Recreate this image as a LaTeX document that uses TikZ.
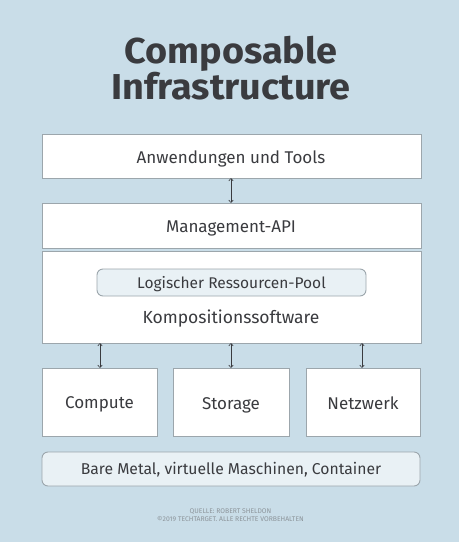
\documentclass[tikz,border=0pt]{standalone}
\usepackage{fontspec}
\setmainfont{Fira Sans}
\usetikzlibrary{arrows.meta}
\definecolor{bg}{HTML}{C9DDE8}
\definecolor{bord}{HTML}{9CA6AC}
\definecolor{poolfill}{HTML}{E9F1F5}
\definecolor{txt}{HTML}{3A3B3F}
\definecolor{foot}{HTML}{8C949A}
\tikzset{
  box/.style={draw=bord, line width=0.9pt, fill=white, inner sep=0pt},
  rbox/.style={draw=bord, line width=0.9pt, fill=poolfill, rounded corners=6pt, inner sep=0pt},
  lbl/.style={text=txt, font=\fontsize{17}{19}\selectfont},
  conn/.style={draw=txt, line width=0.6pt, {Straight Barb[length=2.5pt,width=4.5pt]}-{Straight Barb[length=2.5pt,width=4.5pt]}},
}
\begin{document}
\begin{tikzpicture}[x=1pt,y=-1pt]
\fill[bg] (0,0) rectangle (459,542);
\useasboundingbox (0,0) rectangle (459,542);
\node[text=txt, font=\fontsize{36}{33}\selectfont\bfseries, align=center, xscale=1.05, inner sep=0pt] (title) at (231,68) {Composable\\Infrastructure};
% boxes
\draw[box] (42,134) rectangle (421,178);
\node[lbl] (app) at (231,158.5) {Anwendungen und Tools};
\draw[box] (42,203) rectangle (421,248);
\node[lbl] (mapi) at (231,228) {Management-API};
\draw[box] (42,251) rectangle (421,343);
\draw[rbox] (97,269) rectangle (366,296);
\node[lbl, font=\fontsize{15.5}{17}\selectfont] (pool) at (231.5,284) {Logischer Ressourcen-Pool};
\node[lbl, font=\fontsize{17.5}{19}\selectfont] (komp) at (231,318.5) {Kompositionssoftware};
\draw[box] (42,368) rectangle (157,436);
\node[lbl] (comp) at (99.5,404.5) {Compute};
\draw[box] (173,368) rectangle (289,436);
\node[lbl] (stor) at (231,405) {Storage};
\draw[box] (306,368) rectangle (420,436);
\node[lbl] (netz) at (363,403.5) {Netzwerk};
\draw[rbox] (42,452) rectangle (420,486);
\node[lbl, font=\fontsize{15.7}{17}\selectfont] (bare) at (231,470) {Bare Metal, virtuelle Maschinen, Container};
% connectors
\coordinate (a1) at (231,178); \coordinate (a2) at (231,203);
\draw[conn] (a1) -- (a2);
\coordinate (b1) at (100,343); \coordinate (b2) at (100,368);
\draw[conn] (b1) -- (b2);
\coordinate (c1) at (231,343); \coordinate (c2) at (231,368);
\draw[conn] (c1) -- (c2);
\coordinate (d1) at (362,343); \coordinate (d2) at (362,368);
\draw[conn] (d1) -- (d2);
% footer
\node[text=foot, font=\fontsize{6.8}{7.5}\selectfont, align=center, inner sep=0pt] (src) at (230.5,515) {QUELLE: ROBERT SHELDON\\©2019 TECHTARGET. ALLE RECHTE VORBEHALTEN};
\end{tikzpicture}
\end{document}
